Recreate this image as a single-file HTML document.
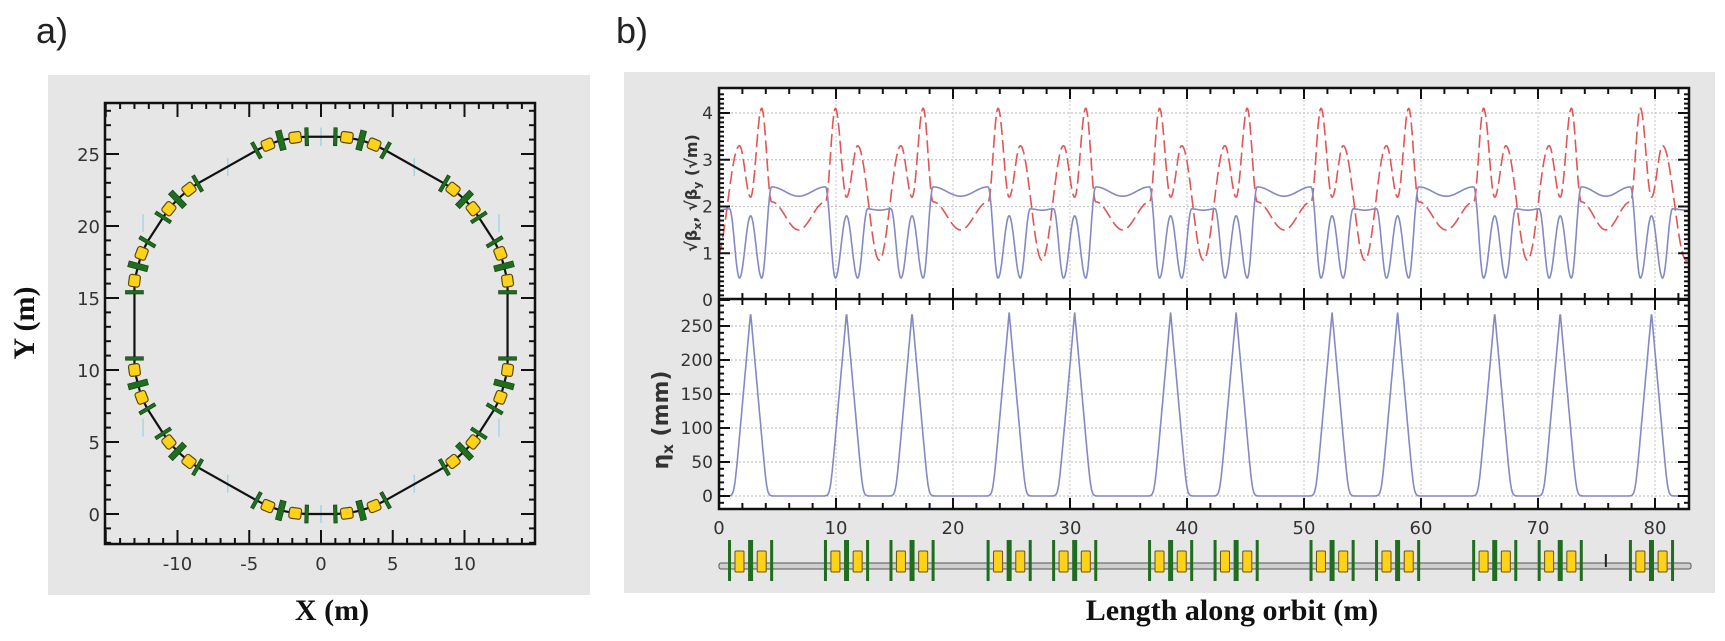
<!DOCTYPE html>
<html><head><meta charset="utf-8"><style>
html,body{margin:0;padding:0;background:#fff;}
svg{display:block;}
text{font-family:"DejaVu Sans","Liberation Sans",sans-serif;fill:#333;}
.serif{font-family:"Liberation Serif","DejaVu Serif",serif;font-weight:bold;fill:#111;}
</style></head><body>
<svg id="s" width="1725" height="641" viewBox="0 0 1725 641" xmlns="http://www.w3.org/2000/svg">
<rect width="1725" height="641" fill="#fff"/>
<text x="36" y="43" style="font-family:'Liberation Sans',sans-serif;font-size:36px;fill:#222">a)</text>
<text x="616" y="43" style="font-family:'Liberation Sans',sans-serif;font-size:36px;fill:#222">b)</text>
<rect x="48" y="75" width="542" height="520" fill="#e6e6e6"/>
<rect x="624" y="72" width="1091" height="521" fill="#e6e6e6"/>
<rect x="719" y="88" width="970" height="421" fill="#fff"/>
<g id="g"></g>
<text class="serif" x="332" y="620" text-anchor="middle" font-size="30">X (m)</text>
<text class="serif" transform="translate(34,323) rotate(-90)" text-anchor="middle" font-size="30">Y (m)</text>
<text class="serif" x="1232" y="620" text-anchor="middle" font-size="30">Length along orbit (m)</text>
<text transform="translate(697,193) rotate(-90)" text-anchor="middle" font-size="16" font-weight="bold" fill="#222">√β<tspan font-size="11" dy="4">x</tspan><tspan dy="-4">, √β</tspan><tspan font-size="11" dy="4">y</tspan><tspan dy="-4"> (√m)</tspan></text>
<text transform="translate(668,420) rotate(-90)" text-anchor="middle" font-size="22" font-weight="bold" fill="#222">η<tspan font-size="15" dy="5">x</tspan><tspan dy="-5"> (mm)</tspan></text>
</svg>
<script>
(function(){
var NS="http://www.w3.org/2000/svg",G=document.getElementById("g");
function el(t,a,txt){var e=document.createElementNS(NS,t);for(var k in a)e.setAttribute(k,a[k]);if(txt!=null)e.textContent=txt;G.appendChild(e);return e;}
function line(x1,y1,x2,y2,c,w,extra){var a={x1:x1,y1:y1,x2:x2,y2:y2,stroke:c,"stroke-width":w};if(extra)for(var k in extra)a[k]=extra[k];return el("line",a);}
var ax=function(x){return 321+14.35*x;},ay=function(y){return 514-14.4*y;};
var L=105,R=535,T=103,B=544;
for(var i=-15;i<=14;i++){var X=ax(i);if(X<L||X>R)continue;var mj=(i%5==0);var h=mj?14:6;
 line(X,B,X,B-h,"#111",2);line(X,T,X,T+h,"#111",2);
 if(mj&&i>-15)el("text",{x:X,y:570,"text-anchor":"middle","font-size":18},String(i));}
for(var j=-2;j<=28;j++){var Y=ay(j);if(Y<T||Y>B)continue;var mj=(j%5==0);var h=mj?14:6;
 line(L,Y,L+h,Y,"#111",2);line(R,Y,R-h,Y,"#111",2);
 if(mj)el("text",{x:100,y:Y+7,"text-anchor":"end","font-size":18},String(j));}
el("rect",{x:L,y:T,width:R-L,height:B-T,fill:"none",stroke:"#111","stroke-width":2.5});
var q=[[0,0],[1,0],[1.8,0.05],[2.8,0.25],[3.7,0.55],[4.5,0.95],[8.6,3.25],[9.2,3.65],[10,4.35],[10.6,5.0],[11,5.6],[12.1,7.3],[12.5,8.1],[12.75,9.0],[13,10],[13,10.8],[13,13.1]];
var H=26.2,pts=[];
q.forEach(function(p){pts.push([p[0],p[1]]);});
for(var k=q.length-2;k>=0;k--)pts.push([q[k][0],H-q[k][1]]);
for(var k=1;k<q.length;k++)pts.push([-q[k][0],H-q[k][1]]);
for(var k=q.length-2;k>0;k--)pts.push([-q[k][0],q[k][1]]);
[[0,0],[6.5,2.1],[12.4,6.0],[13,13.1]].forEach(function(p){[[1,1],[-1,1],[1,-1],[-1,-1]].forEach(function(m){
 var x=p[0]*m[0],y=m[1]>0?p[1]:H-p[1];var X=ax(x),Y=ay(y);line(X,Y-9,X,Y+9,"#a8d4e8",1.5);});});
el("polygon",{points:pts.map(function(p){return ax(p[0])+","+ay(p[1]);}).join(" "),fill:"none",stroke:"#111","stroke-width":2.2});
function dirAt(x,y){
 var best=0,bd=1e9;for(var i=0;i<q.length;i++){var d=Math.abs(q[i][0]-x)+Math.abs(q[i][1]-y);if(d<bd){bd=d;best=i;}}
 var a=q[Math.max(0,best-1)],b=q[Math.min(q.length-1,best+1)];return [b[0]-a[0],b[1]-a[1]];}
var greens=[[1,0,0],[2.8,0.25,1],[4.5,0.95,0],[8.6,3.25,0],[10,4.35,1],[11,5.6,0],[12.1,7.3,0],[12.75,9.0,1],[13,10.8,0]];
var yell=[[1.8,0.05],[3.7,0.55],[9.2,3.65],[10.6,5.0],[12.5,8.1],[13,10]];
var mir=[[1,1],[-1,1],[1,-1],[-1,-1]];
mir.forEach(function(m){
 greens.forEach(function(g){var d=dirAt(g[0],g[1]);var x=g[0]*m[0],y=m[1]>0?g[1]:H-g[1];var dx=d[0]*m[0],dy=d[1]*m[1];
  var ang=Math.atan2(-dy,dx)*180/Math.PI;var X=ax(x),Y=ay(y);
  var w=g[2]?6:3.5,h=g[2]?20:18;
  el("rect",{x:X-w/2,y:Y-h/2,width:w,height:h,fill:"#1f6e1f",stroke:"#0c3d0c","stroke-width":0.6,transform:"rotate("+ang+" "+X+" "+Y+")"});});
 yell.forEach(function(g){var d=dirAt(g[0],g[1]);var x=g[0]*m[0],y=m[1]>0?g[1]:H-g[1];var dx=d[0]*m[0],dy=d[1]*m[1];
  var ang=Math.atan2(-dy,dx)*180/Math.PI;var X=ax(x),Y=ay(y);
  el("rect",{x:X-6,y:Y-5.5,width:12,height:11,rx:2.5,fill:"#ffd21a",stroke:"#5a4a00","stroke-width":1.2,transform:"rotate("+ang+" "+X+" "+Y+")"});});
});
var bx=function(s){return 719+11.7*s;},by1=function(v){return 300-46.75*v;},by2=function(e){return 496-0.68*e;};
var PL=719,PR=1689,PT=88,PM=299,PB=509;
for(var s=10;s<=80;s+=10){line(bx(s),PT,bx(s),PB,"#c4c4c4",1,{"stroke-dasharray":"2 2"});}
for(var v=1;v<=4;v++)line(PL,by1(v),PR,by1(v),"#c4c4c4",1.2,{"stroke-dasharray":"2 2"});
for(var e=0;e<=250;e+=50)line(PL,by2(e),PR,by2(e),"#c4c4c4",1.2,{"stroke-dasharray":"2 2"});
var C=[2.7,10.9,16.5,24.8,30.4,38.6,44.2,52.4,58.0,66.3,71.9,79.7],Lc=82.95;
var CC=[];C.forEach(function(c){CC.push(c-Lc);});C.forEach(function(c){CC.push(c);});C.forEach(function(c){CC.push(c+Lc);});
var kb=[],kr=[];
for(var i=0;i<CC.length;i++){var c=CC[i];
 var gl=i>0?c-CC[i-1]:8.2,gr=i<CC.length-1?CC[i+1]-c:8.2;var lL=gl>7,lR=gr>7;
 kb.push([c-1.8,lL?2.42:1.95],[c-0.95,0.47],[c,1.8],[c+0.95,0.47],[c+1.8,lR?2.42:1.95]);
 if(lL)kr.push([c-1.8,2.1]);kr.push([c-0.95,lL?4.1:3.3],[c,2.2],[c+0.95,lR?4.1:3.3]);if(lR)kr.push([c+1.8,2.1]);
 if(i<CC.length-1){var m=(c+CC[i+1])/2;kb.push([m,lR?2.22:1.92]);kr.push([m,lR?1.5:0.85]);}
}
kb.sort(function(a,b){return a[0]-b[0];});kr.sort(function(a,b){return a[0]-b[0];});
function interp(k,s){for(var i=0;i<k.length-1;i++){if(s>=k[i][0]&&s<=k[i+1][0]){var t=(s-k[i][0])/(k[i+1][0]-k[i][0]);var f=(1-Math.cos(Math.PI*t))/2;return k[i][1]+(k[i+1][1]-k[i][1])*f;}}return 0;}
function sp(x){var k=0.07;return k*Math.log(1+Math.exp(x/k));}
var Smax=(PR-PL)/11.7,db="",dr="",de="";
for(var s=0;s<=Smax+1e-9;s+=0.04){var X=bx(s).toFixed(1);
 db+=(s==0?"M":"L")+X+","+by1(interp(kb,s)).toFixed(1);
 dr+=(s==0?"M":"L")+X+","+by1(interp(kr,s)).toFixed(1);
 var eta=0;CC.forEach(function(c){var u=Math.abs(s-c)/1.4;var g=sp(1-u)-sp(-1);if(g>eta)eta=g;});
 eta=Math.max(0,270*eta/(sp(1)-sp(-1)));
 de+=(s==0?"M":"L")+X+","+by2(eta).toFixed(1);}
el("path",{d:dr,fill:"none",stroke:"#e05555","stroke-width":1.6,"stroke-dasharray":"13 5"});
el("path",{d:db,fill:"none",stroke:"#8489c4","stroke-width":1.6});
el("path",{d:de,fill:"none",stroke:"#8489c4","stroke-width":1.6});
el("rect",{x:PL,y:PT,width:PR-PL,height:PB-PT,fill:"none",stroke:"#111","stroke-width":2.5});
line(PL,PM,PR,PM,"#111",2.5);
for(var s=0;s<=82;s+=2){var X=bx(s);var mj=(s%10==0);var h=mj?11:6;
 line(X,PT,X,PT+h,"#111",2);line(X,PB,X,PB-h,"#111",2);line(X,PM-h,X,PM+h,"#111",2);
 if(mj)el("text",{x:X,y:534,"text-anchor":"middle","font-size":18},String(s));}
for(var v=0;v<=4.45;v+=0.1){var Y=by1(v);if(Y<PT)break;var mj=Math.abs(v-Math.round(v))<0.01;var h=mj?11:5;
 line(PL,Y,PL+h,Y,"#111",2);line(PR,Y,PR-h,Y,"#111",2);
 if(mj)el("text",{x:713,y:Y+6,"text-anchor":"end","font-size":17},String(Math.round(v)));}
for(var e=-10;e<=290;e+=10){var Y=by2(e);if(Y>PB||Y<PM)continue;var mj=(e%50==0);var h=mj?11:5;
 line(PL,Y,PL+h,Y,"#111",2);line(PR,Y,PR-h,Y,"#111",2);
 if(mj)el("text",{x:713,y:Y+6,"text-anchor":"end","font-size":17},String(e));}
el("rect",{x:PL,y:563,width:PR-PL+2,height:6,rx:2,fill:"#cfcfcf",stroke:"#555","stroke-width":1});
line(bx(75.8),554,bx(75.8),567,"#222",2);
C.forEach(function(c){
 [[-1.8,3],[1.8,3],[0,5]].forEach(function(b){var X=bx(c+b[0]);el("rect",{x:X-b[1]/2,y:540,width:b[1],height:41,fill:"#1f6e1f"});});
 [-0.95,0.95].forEach(function(o){var X=bx(c+o);el("rect",{x:X-4.5,y:551,width:9,height:21,rx:1,fill:"#ffd21a",stroke:"#6a5500","stroke-width":1});});
});
})();
</script>
</body></html>
